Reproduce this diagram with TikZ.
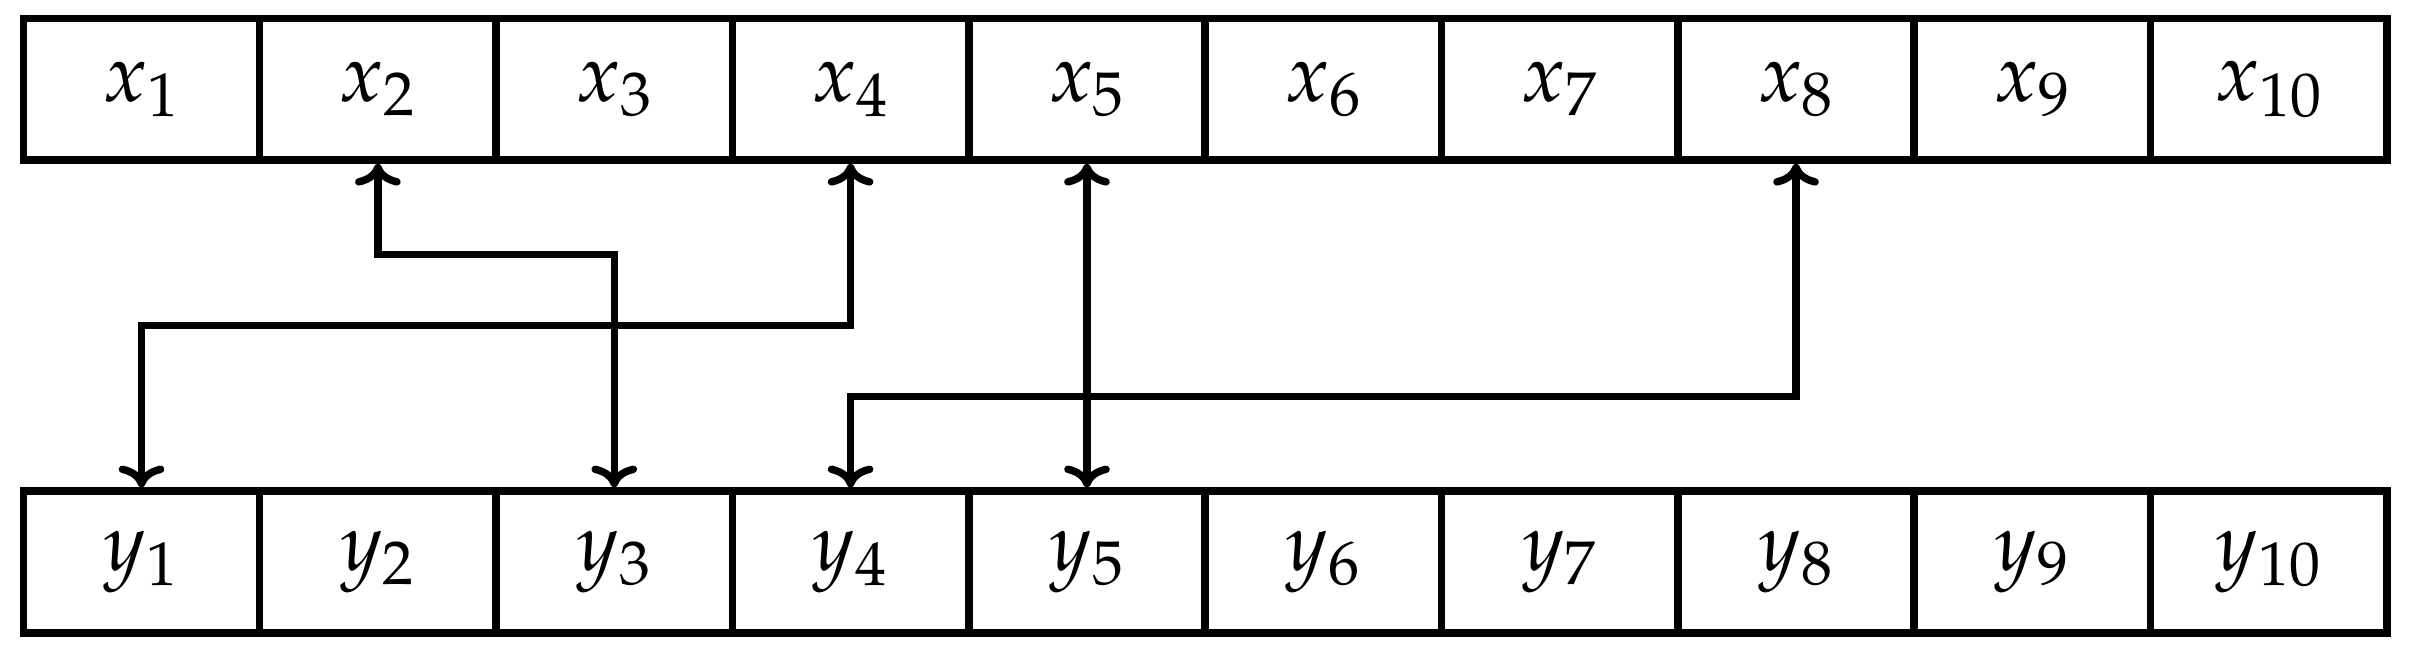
\documentclass[tikz,border=0pt]{standalone}
\usepackage{mathpazo}
\usetikzlibrary{arrows.meta}
\begin{document}
\begin{tikzpicture}[
  cell/.style={draw, line width=2.25pt, minimum width=2.5cm, minimum height=1.5cm,
    inner sep=0pt, font=\fontsize{24.5}{29}\selectfont},
  link/.style={line width=2.25pt, <->}
]
\useasboundingbox (-0.247,-0.205) rectangle (25.297,6.694);
\foreach \i in {1,...,10} {
  \node[cell] (x\i) at ({2.5*\i-1.25},5.75) {$x_{\i}$};
  \node[cell] (y\i) at ({2.5*\i-1.25},0.75) {$y_{\i}$};
}
\coordinate (m1) at (0,4.0);
\coordinate (m2) at (0,3.25);
\coordinate (m3) at (0,2.5);
\draw[link] (x2.south) -- (x2.south |- m1) -- (y3.north |- m1) -- (y3.north);
\draw[link] (x4.south) -- (x4.south |- m2) -- (y1.north |- m2) -- (y1.north);
\draw[link] (x5.south) -- (y5.north);
\draw[link] (x8.south) -- (x8.south |- m3) -- (y4.north |- m3) -- (y4.north);
\end{tikzpicture}
\end{document}
